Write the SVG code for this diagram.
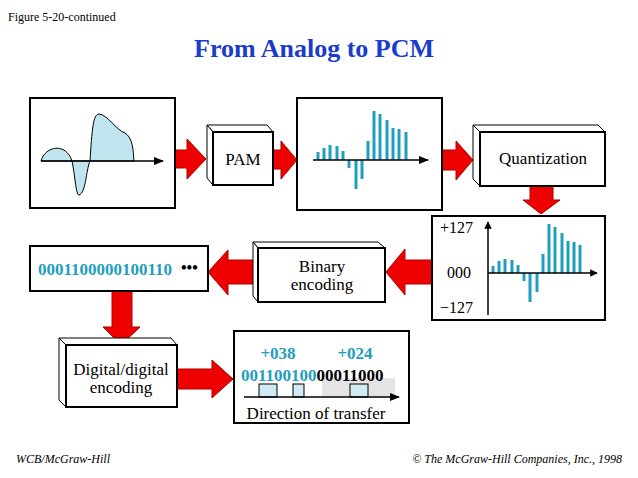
<svg xmlns="http://www.w3.org/2000/svg" width="638" height="478" viewBox="0 0 638 478">
<style>
text{font-family:"Liberation Serif","DejaVu Serif",serif}
.box{fill:#fff;stroke:#000;stroke-width:2}
.side{fill:#fff;stroke:#000;stroke-width:1}
.ra{fill:#ee0000;stroke:#b00000;stroke-width:1}
.bar{stroke:#1e9ec0;stroke-width:3}
.ax{stroke:#000;stroke-width:1.5;fill:none}
.lbl{font-size:17px;text-anchor:middle}
.teal{fill:#1e9ec0;font-weight:bold}
</style>
<defs>
<marker id="ah" viewBox="0 0 10 10" refX="9" refY="5" markerWidth="7" markerHeight="7" orient="auto"><path d="M0,1 L10,5 L0,9 z" fill="#000"/></marker>
<marker id="bh" viewBox="0 0 10 10" refX="9" refY="5" markerWidth="5" markerHeight="5" orient="auto"><path d="M0,0 L10,5 L0,10 z" fill="#000"/></marker>
</defs>
<rect width="638" height="478" fill="#fff"/>
<text x="8" y="21" font-size="12">Figure 5-20-continued</text>
<text x="314" y="57" font-size="26" font-weight="bold" fill="#1a3ccc" text-anchor="middle">From Analog to PCM</text>

<g id="connectors">
<path class="ra" d="M175,150 H187 V139 L206,159 L187,179 V168 H175 z"/>
<path class="ra" d="M273,150 H281 V141 L297,160 L281,179 V169 H273 z"/>
<path class="ra" d="M442,150 H456 V141 L473,160 L456,180 V170 H442 z"/>
<path class="ra" d="M530,186 H553 V200 H560 L541,214 L523,200 H530 z"/>
<path class="ra" d="M432,260 H405 V249 L386,272 L405,295 V284 H432 z"/>
<path class="ra" d="M258,260 H228 V250 L208,272 L228,295 V284 H258 z"/>
<path class="ra" d="M112,291 H132 V327 H140 L121,345 L103,327 H112 z"/>
<path class="ra" d="M177,369 H212 V360 L233,379 L212,398 V389 H177 z"/>
</g>

<g id="analog">
<rect class="box" x="30" y="98" width="145" height="110"/>
<path d="M41,161 C45,146 66,142 72,161 C75,175 76,196 79,195 C86,193 86,170 90,161 C92,130 93,114 99,114 C108,115 116,130 125,133 C133,138 133,150 134,161 z" fill="#bfe5ee" stroke="#000" stroke-width="1"/>
<line class="ax" x1="41" y1="161" x2="163" y2="161" marker-end="url(#ah)"/>
</g>

<g id="pam">
<path class="side" d="M207,125 L267,125 L273,132 L213,132 z"/>
<path class="side" d="M207,125 L213,132 L213,185 L207,178 z"/>
<rect class="box" x="213" y="132" width="60" height="53" stroke-width="1.5"/>
<text class="lbl" x="243" y="165">PAM</text>
</g>

<g id="samples">
<rect class="box" x="297" y="98" width="145" height="112"/>
<g class="bar">
<line x1="318" y1="160" x2="318" y2="152"/><line x1="324" y1="160" x2="324" y2="148"/><line x1="330" y1="160" x2="330" y2="145"/><line x1="337" y1="160" x2="337" y2="146"/><line x1="343" y1="160" x2="343" y2="151"/>
<line x1="349" y1="160" x2="349" y2="168"/><line x1="356" y1="160" x2="356" y2="189"/><line x1="362" y1="160" x2="362" y2="179"/>
<line x1="368" y1="160" x2="368" y2="141"/><line x1="374" y1="160" x2="374" y2="111"/><line x1="380" y1="160" x2="380" y2="114"/><line x1="387" y1="160" x2="387" y2="120"/><line x1="393" y1="160" x2="393" y2="128"/><line x1="399" y1="160" x2="399" y2="129"/><line x1="406" y1="160" x2="406" y2="132"/>
</g>
<line class="ax" x1="313" y1="160" x2="428" y2="160" marker-end="url(#ah)"/>
</g>

<g id="quantization">
<path class="side" d="M473,125 L598,125 L605,132 L480,132 z"/>
<path class="side" d="M473,125 L480,132 L480,186 L473,179 z"/>
<rect class="box" x="480" y="132" width="125" height="54" stroke-width="1.5"/>
<text class="lbl" x="543" y="164">Quantization</text>
</g>

<g id="quantized">
<rect class="box" x="432" y="216" width="173" height="104"/>
<text x="440" y="233" font-size="16">+127</text>
<text x="447" y="278" font-size="16">000</text>
<text x="440" y="313" font-size="16">−127</text>
<g class="bar">
<line x1="493" y1="273" x2="493" y2="266"/><line x1="499" y1="273" x2="499" y2="261"/><line x1="505" y1="273" x2="505" y2="259"/><line x1="512" y1="273" x2="512" y2="260"/><line x1="518" y1="273" x2="518" y2="265"/>
<line x1="524" y1="273" x2="524" y2="281"/><line x1="530" y1="273" x2="530" y2="302"/><line x1="537" y1="273" x2="537" y2="292"/>
<line x1="543" y1="273" x2="543" y2="254"/><line x1="549" y1="273" x2="549" y2="224"/><line x1="555" y1="273" x2="555" y2="227"/><line x1="562" y1="273" x2="562" y2="233"/><line x1="568" y1="273" x2="568" y2="241"/><line x1="574" y1="273" x2="574" y2="242"/><line x1="580" y1="273" x2="580" y2="245"/>
</g>
<line class="ax" x1="488" y1="315" x2="488" y2="222" marker-end="url(#bh)" stroke-width="2"/>
<line class="ax" x1="488" y1="273" x2="597" y2="273" marker-end="url(#bh)" stroke-width="2"/>
</g>

<g id="binary">
<path class="side" d="M253,242 L378,242 L385,248 L258,248 z"/>
<path class="side" d="M253,242 L258,248 L258,302 L253,296 z"/>
<rect class="box" x="258" y="248" width="127" height="54" stroke-width="1.5"/>
<text class="lbl" x="322" y="272">Binary</text>
<text class="lbl" x="322" y="290">encoding</text>
</g>

<g id="bits">
<rect class="box" x="30" y="246" width="178" height="45"/>
<text x="38" y="275" font-size="17" class="teal">0001100000100110</text>
<text x="181" y="273" font-size="16" font-weight="bold">•••</text>
</g>

<g id="digital">
<path class="side" d="M59,338 L171,338 L177,345 L66,345 z"/>
<path class="side" d="M59,338 L66,345 L66,407 L59,400 z"/>
<rect class="box" x="66" y="345" width="111" height="62" stroke-width="1.5"/>
<text class="lbl" x="121" y="375" font-size="16">Digital/digital</text>
<text class="lbl" x="121" y="393" font-size="16">encoding</text>
</g>

<g id="transfer">
<rect class="box" x="234" y="331" width="175" height="92"/>
<rect x="322" y="378" width="73" height="19" fill="#e4e4e4"/>
<text x="278" y="359" font-size="17" class="teal" text-anchor="middle">+038</text>
<text x="355" y="359" font-size="17" class="teal" text-anchor="middle">+024</text>
<text x="241" y="381" font-size="17" font-weight="bold"><tspan fill="#1e9ec0">001100100</tspan><tspan fill="#000">00011000</tspan></text>
<g fill="#cfeaf3" stroke="#000" stroke-width="1">
<rect x="259" y="384" width="18" height="13"/><rect x="293" y="384" width="11" height="13"/><rect x="350" y="384" width="18" height="13"/>
</g>
<line class="ax" x1="244" y1="397" x2="399" y2="397" marker-end="url(#ah)"/>
<text class="lbl" x="316" y="419" font-size="16">Direction of transfer</text>
</g>

<text x="16" y="463" font-size="12" font-style="italic">WCB/McGraw-Hill</text>
<text x="622" y="463" font-size="12" font-style="italic" text-anchor="end">© The McGraw-Hill Companies, Inc., 1998</text>
</svg>
